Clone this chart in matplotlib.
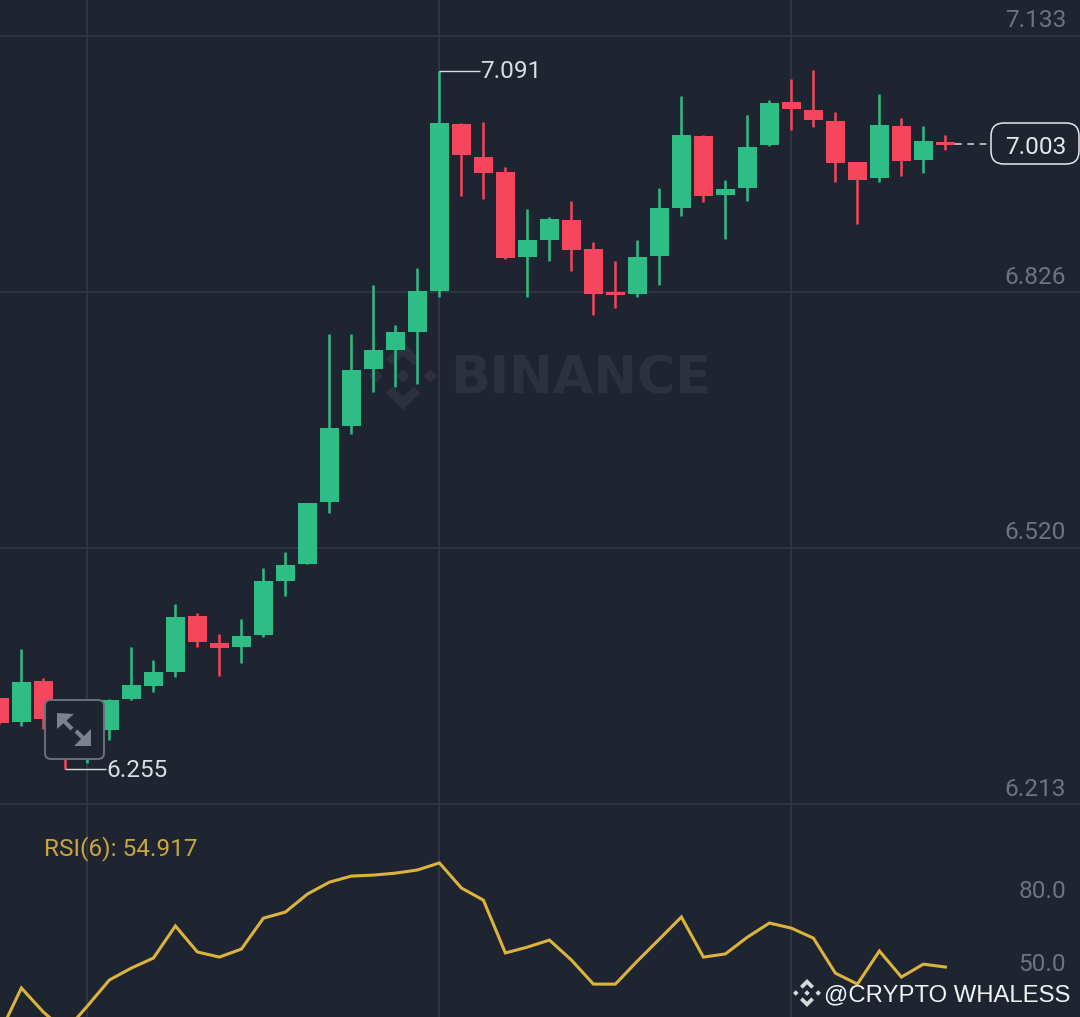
import matplotlib
matplotlib.use("Agg")
import matplotlib.pyplot as plt
from matplotlib.patches import FancyBboxPatch, Polygon
from matplotlib.transforms import Affine2D

# ---------- data ----------
opens = [6.340, 6.311, 6.360, 6.315, 6.284, 6.302, 6.339, 6.354, 6.371, 6.438, 6.406,
         6.401, 6.415, 6.480, 6.500, 6.575, 6.666, 6.734, 6.757, 6.778, 6.827, 7.028,
         6.988, 6.970, 6.868, 6.889, 6.913, 6.878, 6.826, 6.824, 6.869, 6.927, 7.013,
         6.943, 6.951, 7.002, 7.054, 7.044, 7.031, 6.982, 6.963, 7.025, 6.984, 7.006]
closes = [6.310, 6.359, 6.315, 6.284, 6.304, 6.338, 6.355, 6.371, 6.437, 6.407, 6.400,
          6.414, 6.480, 6.499, 6.574, 6.663, 6.733, 6.757, 6.778, 6.827, 7.029, 6.990,
          6.969, 6.867, 6.889, 6.914, 6.877, 6.824, 6.823, 6.868, 6.927, 7.014, 6.941,
          6.950, 7.000, 7.053, 7.046, 7.032, 6.981, 6.961, 7.026, 6.983, 7.007, 7.003]
highs = [6.340, 6.399, 6.364, 6.320, 6.314, 6.339, 6.401, 6.385, 6.453, 6.442, 6.417,
         6.435, 6.496, 6.515, 6.574, 6.776, 6.776, 6.835, 6.787, 6.855, 7.091, 7.029,
         7.030, 6.976, 6.926, 6.916, 6.935, 6.886, 6.863, 6.889, 6.951, 7.061, 7.014,
         6.961, 7.038, 7.056, 7.082, 7.092, 7.042, 6.982, 7.064, 7.035, 7.025, 7.014]
lows = [6.309, 6.307, 6.303, 6.255, 6.262, 6.290, 6.338, 6.347, 6.365, 6.401, 6.366,
        6.382, 6.413, 6.462, 6.500, 6.562, 6.656, 6.706, 6.712, 6.716, 6.820, 6.941,
        6.938, 6.866, 6.820, 6.863, 6.851, 6.799, 6.807, 6.820, 6.835, 6.917, 6.934,
        6.890, 6.935, 7.001, 7.020, 7.024, 6.958, 6.908, 6.958, 6.965, 6.969, 6.996]
rsi = [27.4, 46.3, 36.4, 28.6, 38.9, 49.6, 54.5, 58.6, 71.8, 61.1, 59.0, 62.3, 75.0, 77.5,
       84.9, 89.8, 92.3, 92.7, 93.5, 94.8, 97.7, 87.4, 82.4, 60.7, 63.1, 66.0, 57.8, 47.9,
       47.9, 57.4, 66.4, 75.5, 59.0, 60.3, 67.2, 73.0, 70.9, 66.8, 52.4, 47.9, 61.5, 50.8,
       56.1, 54.917]
price_ticks = [7.133, 6.826, 6.520, 6.213]
price_labels = ["7.133", "6.826", "6.520", "6.213"]
rsi_ticks = [80.0, 50.0]
rsi_labels = ["80.0", "50.0"]
vgrid_idx = [4, 20, 36]
last_price = "7.003"
rsi_title = "RSI(6): 54.917"
high_label, high_idx = "7.091", 20
low_label, low_idx = "6.255", 3

# ---------- style ----------
BG = "#1e2530"
GRID = "#323844"
UP = "#2ebd85"
DOWN = "#f6465d"
TICK = "#6d7480"
YELLOW = "#dcb33d"
WATER = "#2c323d"
FONT = ["Roboto", "DejaVu Sans"]
W, H = 1080, 1017
plt.rcParams["font.family"] = FONT
FS = 17.6

fig = plt.figure(figsize=(W / 100, H / 100), dpi=100, facecolor=BG)
px = Affine2D().scale(1 / W, -1 / H).translate(0, 1) + fig.transFigure

xlim = (0.6 / 22, (W + 0.6) / 22)
PPU = 768 / 0.920  # pixels per price unit
ax = fig.add_axes([0, 1 - 805.5 / H, 1, 805.5 / H], facecolor=BG)
ax.set_xlim(xlim)
ax.set_ylim(6.213 - 1.5 / PPU, 7.133 + 36 / PPU)
ax2 = fig.add_axes([0, 0, 1, (H - 805.5) / H], facecolor="none")
ax2.set_xlim(xlim)
RPU = 73 / 30
ax2.set_ylim(50 - 38 / RPU, 50 + (979 - 805.5) / RPU)


def style(a, ticks, labels, grid_y, dy):
    for s in a.spines.values():
        s.set_visible(False)
    a.set_xticks(vgrid_idx)
    a.tick_params(axis="x", length=0, labelbottom=False)
    a.yaxis.tick_right()
    a.set_yticks(ticks, labels)
    a.tick_params(axis="y", length=0, pad=0, labelsize=FS, labelcolor=TICK)
    a.xaxis.grid(True, color=GRID, lw=1.2)
    a.yaxis.grid(grid_y, **(dict(color=GRID, lw=1.2) if grid_y else {}))
    a.set_axisbelow(True)
    for lab in a.get_yticklabels():
        lab.set_ha("right")
        lab.set_va("baseline")
        lab.set_transform(lab.get_transform() + Affine2D().translate(-14, dy))


style(ax, price_ticks, price_labels, True, 8.5)
style(ax2, rsi_ticks, rsi_labels, False, 8)


# ---------- logo ----------
def logo(target, cx, cy, r, color, z):
    d = 0.2
    shapes = [
        [(0, d), (d, 0), (0, -d), (-d, 0)],
        [(0.8, d), (0.8 + d, 0), (0.8, -d), (0.8 - d, 0)],
        [(-0.8, d), (-0.8 + d, 0), (-0.8, -d), (-0.8 - d, 0)],
        [(0, 1), (0.5, 0.5), (0.31, 0.31), (0, 0.62), (-0.31, 0.31), (-0.5, 0.5)],
        [(0, -1), (0.5, -0.5), (0.31, -0.31), (0, -0.62), (-0.31, -0.31), (-0.5, -0.5)],
    ]
    for s in shapes:
        target.add_patch(Polygon([(cx + x * r, cy + y * r) for x, y in s], closed=True,
                                 fc=color, ec="none", transform=px, zorder=z, clip_on=False))


logo(ax, 403, 376, 34, WATER, 1)
ax.text(450, 393.5, "BINANCE", transform=px, color=WATER, fontsize=37.6,
        fontweight="bold", family=["DejaVu Sans"], ha="left", va="baseline", zorder=1)

# ---------- candles ----------
idx = list(range(len(opens)))
colors = [UP if c >= o else DOWN for o, c in zip(opens, closes)]
ax.vlines(idx, lows, highs, colors=colors, lw=1.8, zorder=3)
ax.bar(idx, [abs(c - o) for o, c in zip(opens, closes)],
       bottom=[min(o, c) for o, c in zip(opens, closes)],
       width=19.5 / 22, color=colors, linewidth=0, zorder=4)

# ---------- high / low labels ----------
ANN = "#d9dce1"
for label, i, val, dy in [(high_label, high_idx, highs[high_idx], -7),
                          (low_label, low_idx, lows[low_idx], -8)]:
    ax.plot([i, i + 41 / 22], [val, val], color=ANN, lw=1.0, zorder=5, solid_capstyle="butt")
    ax.annotate(label, xy=(i + 41 / 22, val), xytext=(0, dy), textcoords="offset pixels",
                color=ANN, fontsize=FS, ha="left", va="baseline", zorder=6)

# ---------- last price ----------
ax.plot([955, 990], [144, 144], transform=px, color="#c9ccd2", lw=1.2, dashes=(4, 3.4), zorder=5)
ax.add_patch(FancyBboxPatch((991, 123), 88, 41, boxstyle="round,pad=0,rounding_size=13",
                            transform=px, fc=BG, ec="#e6e8eb", lw=1.1, zorder=6))
ax.text(1035.5, 154, last_price, transform=px, color="#e6e8eb", fontsize=FS,
        ha="center", va="baseline", zorder=7)

# ---------- expand button ----------
ax.add_patch(FancyBboxPatch((45, 700), 59, 59, boxstyle="round,pad=0,rounding_size=6",
                            transform=px, fc=BG, ec="#6b717c", lw=1.4, zorder=8))
BTN = "#7c828d"
ax.add_patch(Polygon([(57, 713), (74, 714), (57, 729)], closed=True, fc=BTN, ec="none", transform=px, zorder=9))
ax.add_patch(Polygon([(91, 746), (74, 746), (91, 729)], closed=True, fc=BTN, ec="none", transform=px, zorder=9))
ax.plot([63, 72], [720, 729], transform=px, color=BTN, lw=3, zorder=9, solid_capstyle="butt")
ax.plot([76, 85], [731, 740], transform=px, color=BTN, lw=3, zorder=9, solid_capstyle="butt")

# ---------- RSI ----------
ax2.plot(idx, rsi, color=YELLOW, lw=2.2, solid_joinstyle="miter", zorder=3)
ax2.text(44, 855, rsi_title, transform=px, color="#c9a63f", fontsize=FS, ha="left", va="baseline")

# ---------- credit ----------
logo(ax2, 807, 993, 14, "#d8d9db", 10)
ax2.text(824.5, 1001, "@CRYPTO WHALESS", transform=px, color="#f2f3f4", fontsize=17.2,
         family=["Liberation Sans", "DejaVu Sans"], ha="left", va="baseline", zorder=10)

fig.savefig("out.png", dpi=100, facecolor=BG)
